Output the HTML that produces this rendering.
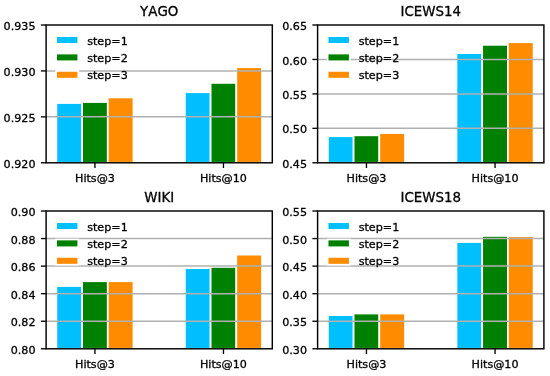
<!DOCTYPE html>
<html><head><meta charset="utf-8"><title>Hits by step</title>
<style>
html,body{margin:0;padding:0;background:#fff;}
body{width:550px;height:376px;overflow:hidden;}
svg{display:block;}
text{font-family:"DejaVu Sans","Liberation Sans",sans-serif;fill:#000;stroke:#000;stroke-width:0.3;}
.tk{font-size:11.15px;}
.tt{font-size:13.4px;font-kerning:none;}
</style></head><body>
<svg width="550" height="376" viewBox="0 0 550 376">
<rect x="0" y="0" width="550" height="376" fill="#fff"/>
<g>
<rect x="56.38" y="103.03" width="25.7" height="59.78" fill="#00bfff" stroke="#fff" stroke-width="1.75"/>
<rect x="82.09" y="102.03" width="25.7" height="60.78" fill="#008000" stroke="#fff" stroke-width="1.75"/>
<rect x="107.79" y="97.42" width="25.7" height="65.38" fill="#ff8c00" stroke="#fff" stroke-width="1.75"/>
<rect x="184.9" y="92.22" width="25.7" height="70.58" fill="#00bfff" stroke="#fff" stroke-width="1.75"/>
<rect x="210.61" y="82.92" width="25.7" height="79.88" fill="#008000" stroke="#fff" stroke-width="1.75"/>
<rect x="236.31" y="67.22" width="25.7" height="95.58" fill="#ff8c00" stroke="#fff" stroke-width="1.75"/>
<line x1="46.1" x2="272.3" y1="116.87" y2="116.87" stroke="#b0b0b0" stroke-width="1.5"/>
<line x1="46.1" x2="272.3" y1="70.93" y2="70.93" stroke="#b0b0b0" stroke-width="1.5"/>
<rect x="46.1" y="25" width="226.2" height="137.8" fill="none" stroke="#000" stroke-width="1.45"/>
<line x1="40.88" x2="46.1" y1="162.8" y2="162.8" stroke="#000" stroke-width="1.35"/>
<text class="tk" transform="translate(35.5 167.9) scale(1 1.0)" text-anchor="end">0.920</text>
<line x1="40.88" x2="46.1" y1="116.87" y2="116.87" stroke="#000" stroke-width="1.35"/>
<text class="tk" transform="translate(35.5 121.97) scale(1 1.0)" text-anchor="end">0.925</text>
<line x1="40.88" x2="46.1" y1="70.93" y2="70.93" stroke="#000" stroke-width="1.35"/>
<text class="tk" transform="translate(35.5 76.03) scale(1 1.0)" text-anchor="end">0.930</text>
<line x1="40.88" x2="46.1" y1="25" y2="25" stroke="#000" stroke-width="1.35"/>
<text class="tk" transform="translate(35.5 30.1) scale(1 1.0)" text-anchor="end">0.935</text>
<line x1="94.94" x2="94.94" y1="162.8" y2="168.03" stroke="#000" stroke-width="1.35"/>
<text class="tk" transform="translate(94.94 182.1) scale(1 1.0)" text-anchor="middle">Hits@3</text>
<line x1="223.46" x2="223.46" y1="162.8" y2="168.03" stroke="#000" stroke-width="1.35"/>
<text class="tk" transform="translate(223.46 182.1) scale(1 1.0)" text-anchor="middle">Hits@10</text>
<text class="tt" transform="translate(159.2 16.15) scale(1 1.0)" text-anchor="middle">YAGO</text>
<rect x="56.1" y="36.1" width="22.2" height="7.8" fill="#00bfff" stroke="#fff" stroke-width="1.75"/>
<text class="tk" transform="translate(87.2 44.6) scale(1 1.0)" text-anchor="start">step=1</text>
<rect x="56.1" y="53.5" width="22.2" height="7.8" fill="#008000" stroke="#fff" stroke-width="1.75"/>
<text class="tk" transform="translate(87.2 62) scale(1 1.0)" text-anchor="start">step=2</text>
<rect x="56.1" y="70.9" width="22.2" height="7.8" fill="#ff8c00" stroke="#fff" stroke-width="1.75"/>
<text class="tk" transform="translate(87.2 79.4) scale(1 1.0)" text-anchor="start">step=3</text>
</g>
<g>
<rect x="327.89" y="136.22" width="25.72" height="26.58" fill="#00bfff" stroke="#fff" stroke-width="1.75"/>
<rect x="353.6" y="135.32" width="25.72" height="27.48" fill="#008000" stroke="#fff" stroke-width="1.75"/>
<rect x="379.32" y="133.03" width="25.72" height="29.78" fill="#ff8c00" stroke="#fff" stroke-width="1.75"/>
<rect x="456.47" y="53.12" width="25.72" height="109.68" fill="#00bfff" stroke="#fff" stroke-width="1.75"/>
<rect x="482.18" y="44.83" width="25.72" height="117.98" fill="#008000" stroke="#fff" stroke-width="1.75"/>
<rect x="507.9" y="42.23" width="25.72" height="120.58" fill="#ff8c00" stroke="#fff" stroke-width="1.75"/>
<line x1="317.6" x2="543.9" y1="128.35" y2="128.35" stroke="#b0b0b0" stroke-width="1.5"/>
<line x1="317.6" x2="543.9" y1="93.9" y2="93.9" stroke="#b0b0b0" stroke-width="1.5"/>
<line x1="317.6" x2="543.9" y1="59.45" y2="59.45" stroke="#b0b0b0" stroke-width="1.5"/>
<rect x="317.6" y="25" width="226.3" height="137.8" fill="none" stroke="#000" stroke-width="1.45"/>
<line x1="312.38" x2="317.6" y1="162.8" y2="162.8" stroke="#000" stroke-width="1.35"/>
<text class="tk" transform="translate(307 167.9) scale(1 1.0)" text-anchor="end">0.45</text>
<line x1="312.38" x2="317.6" y1="128.35" y2="128.35" stroke="#000" stroke-width="1.35"/>
<text class="tk" transform="translate(307 133.45) scale(1 1.0)" text-anchor="end">0.50</text>
<line x1="312.38" x2="317.6" y1="93.9" y2="93.9" stroke="#000" stroke-width="1.35"/>
<text class="tk" transform="translate(307 99) scale(1 1.0)" text-anchor="end">0.55</text>
<line x1="312.38" x2="317.6" y1="59.45" y2="59.45" stroke="#000" stroke-width="1.35"/>
<text class="tk" transform="translate(307 64.55) scale(1 1.0)" text-anchor="end">0.60</text>
<line x1="312.38" x2="317.6" y1="25" y2="25" stroke="#000" stroke-width="1.35"/>
<text class="tk" transform="translate(307 30.1) scale(1 1.0)" text-anchor="end">0.65</text>
<line x1="366.46" x2="366.46" y1="162.8" y2="168.03" stroke="#000" stroke-width="1.35"/>
<text class="tk" transform="translate(366.46 182.1) scale(1 1.0)" text-anchor="middle">Hits@3</text>
<line x1="495.04" x2="495.04" y1="162.8" y2="168.03" stroke="#000" stroke-width="1.35"/>
<text class="tk" transform="translate(495.04 182.1) scale(1 1.0)" text-anchor="middle">Hits@10</text>
<text class="tt" transform="translate(430.75 16.15) scale(1 1.0)" text-anchor="middle">ICEWS14</text>
<rect x="327.6" y="36.1" width="22.2" height="7.8" fill="#00bfff" stroke="#fff" stroke-width="1.75"/>
<text class="tk" transform="translate(358.7 44.6) scale(1 1.0)" text-anchor="start">step=1</text>
<rect x="327.6" y="53.5" width="22.2" height="7.8" fill="#008000" stroke="#fff" stroke-width="1.75"/>
<text class="tk" transform="translate(358.7 62) scale(1 1.0)" text-anchor="start">step=2</text>
<rect x="327.6" y="70.9" width="22.2" height="7.8" fill="#ff8c00" stroke="#fff" stroke-width="1.75"/>
<text class="tk" transform="translate(358.7 79.4) scale(1 1.0)" text-anchor="start">step=3</text>
</g>
<g>
<rect x="56.38" y="286.02" width="25.7" height="62.78" fill="#00bfff" stroke="#fff" stroke-width="1.75"/>
<rect x="82.09" y="281.23" width="25.7" height="67.57" fill="#008000" stroke="#fff" stroke-width="1.75"/>
<rect x="107.79" y="281.23" width="25.7" height="67.57" fill="#ff8c00" stroke="#fff" stroke-width="1.75"/>
<rect x="184.9" y="268.12" width="25.7" height="80.68" fill="#00bfff" stroke="#fff" stroke-width="1.75"/>
<rect x="210.61" y="266.93" width="25.7" height="81.88" fill="#008000" stroke="#fff" stroke-width="1.75"/>
<rect x="236.31" y="254.62" width="25.7" height="94.18" fill="#ff8c00" stroke="#fff" stroke-width="1.75"/>
<line x1="46.1" x2="272.3" y1="321.24" y2="321.24" stroke="#b0b0b0" stroke-width="1.5"/>
<line x1="46.1" x2="272.3" y1="293.68" y2="293.68" stroke="#b0b0b0" stroke-width="1.5"/>
<line x1="46.1" x2="272.3" y1="266.12" y2="266.12" stroke="#b0b0b0" stroke-width="1.5"/>
<line x1="46.1" x2="272.3" y1="238.56" y2="238.56" stroke="#b0b0b0" stroke-width="1.5"/>
<rect x="46.1" y="211" width="226.2" height="137.8" fill="none" stroke="#000" stroke-width="1.45"/>
<line x1="40.88" x2="46.1" y1="348.8" y2="348.8" stroke="#000" stroke-width="1.35"/>
<text class="tk" transform="translate(35.5 353.9) scale(1 1.0)" text-anchor="end">0.80</text>
<line x1="40.88" x2="46.1" y1="321.24" y2="321.24" stroke="#000" stroke-width="1.35"/>
<text class="tk" transform="translate(35.5 326.34) scale(1 1.0)" text-anchor="end">0.82</text>
<line x1="40.88" x2="46.1" y1="293.68" y2="293.68" stroke="#000" stroke-width="1.35"/>
<text class="tk" transform="translate(35.5 298.78) scale(1 1.0)" text-anchor="end">0.84</text>
<line x1="40.88" x2="46.1" y1="266.12" y2="266.12" stroke="#000" stroke-width="1.35"/>
<text class="tk" transform="translate(35.5 271.22) scale(1 1.0)" text-anchor="end">0.86</text>
<line x1="40.88" x2="46.1" y1="238.56" y2="238.56" stroke="#000" stroke-width="1.35"/>
<text class="tk" transform="translate(35.5 243.66) scale(1 1.0)" text-anchor="end">0.88</text>
<line x1="40.88" x2="46.1" y1="211" y2="211" stroke="#000" stroke-width="1.35"/>
<text class="tk" transform="translate(35.5 216.1) scale(1 1.0)" text-anchor="end">0.90</text>
<line x1="94.94" x2="94.94" y1="348.8" y2="354.03" stroke="#000" stroke-width="1.35"/>
<text class="tk" transform="translate(94.94 368.1) scale(1 1.0)" text-anchor="middle">Hits@3</text>
<line x1="223.46" x2="223.46" y1="348.8" y2="354.03" stroke="#000" stroke-width="1.35"/>
<text class="tk" transform="translate(223.46 368.1) scale(1 1.0)" text-anchor="middle">Hits@10</text>
<text class="tt" transform="translate(159.2 202.15) scale(1 1.0)" text-anchor="middle">WIKI</text>
<rect x="56.1" y="222.1" width="22.2" height="7.8" fill="#00bfff" stroke="#fff" stroke-width="1.75"/>
<text class="tk" transform="translate(87.2 230.6) scale(1 1.0)" text-anchor="start">step=1</text>
<rect x="56.1" y="239.5" width="22.2" height="7.8" fill="#008000" stroke="#fff" stroke-width="1.75"/>
<text class="tk" transform="translate(87.2 248) scale(1 1.0)" text-anchor="start">step=2</text>
<rect x="56.1" y="256.9" width="22.2" height="7.8" fill="#ff8c00" stroke="#fff" stroke-width="1.75"/>
<text class="tk" transform="translate(87.2 265.4) scale(1 1.0)" text-anchor="start">step=3</text>
</g>
<g>
<rect x="327.89" y="315.12" width="25.72" height="33.68" fill="#00bfff" stroke="#fff" stroke-width="1.75"/>
<rect x="353.6" y="313.52" width="25.72" height="35.28" fill="#008000" stroke="#fff" stroke-width="1.75"/>
<rect x="379.32" y="313.52" width="25.72" height="35.28" fill="#ff8c00" stroke="#fff" stroke-width="1.75"/>
<rect x="456.47" y="242.03" width="25.72" height="106.78" fill="#00bfff" stroke="#fff" stroke-width="1.75"/>
<rect x="482.18" y="235.93" width="25.72" height="112.88" fill="#008000" stroke="#fff" stroke-width="1.75"/>
<rect x="507.9" y="236.22" width="25.72" height="112.58" fill="#ff8c00" stroke="#fff" stroke-width="1.75"/>
<line x1="317.6" x2="543.9" y1="321.24" y2="321.24" stroke="#b0b0b0" stroke-width="1.5"/>
<line x1="317.6" x2="543.9" y1="293.68" y2="293.68" stroke="#b0b0b0" stroke-width="1.5"/>
<line x1="317.6" x2="543.9" y1="266.12" y2="266.12" stroke="#b0b0b0" stroke-width="1.5"/>
<line x1="317.6" x2="543.9" y1="238.56" y2="238.56" stroke="#b0b0b0" stroke-width="1.5"/>
<rect x="317.6" y="211" width="226.3" height="137.8" fill="none" stroke="#000" stroke-width="1.45"/>
<line x1="312.38" x2="317.6" y1="348.8" y2="348.8" stroke="#000" stroke-width="1.35"/>
<text class="tk" transform="translate(307 353.9) scale(1 1.0)" text-anchor="end">0.30</text>
<line x1="312.38" x2="317.6" y1="321.24" y2="321.24" stroke="#000" stroke-width="1.35"/>
<text class="tk" transform="translate(307 326.34) scale(1 1.0)" text-anchor="end">0.35</text>
<line x1="312.38" x2="317.6" y1="293.68" y2="293.68" stroke="#000" stroke-width="1.35"/>
<text class="tk" transform="translate(307 298.78) scale(1 1.0)" text-anchor="end">0.40</text>
<line x1="312.38" x2="317.6" y1="266.12" y2="266.12" stroke="#000" stroke-width="1.35"/>
<text class="tk" transform="translate(307 271.22) scale(1 1.0)" text-anchor="end">0.45</text>
<line x1="312.38" x2="317.6" y1="238.56" y2="238.56" stroke="#000" stroke-width="1.35"/>
<text class="tk" transform="translate(307 243.66) scale(1 1.0)" text-anchor="end">0.50</text>
<line x1="312.38" x2="317.6" y1="211" y2="211" stroke="#000" stroke-width="1.35"/>
<text class="tk" transform="translate(307 216.1) scale(1 1.0)" text-anchor="end">0.55</text>
<line x1="366.46" x2="366.46" y1="348.8" y2="354.03" stroke="#000" stroke-width="1.35"/>
<text class="tk" transform="translate(366.46 368.1) scale(1 1.0)" text-anchor="middle">Hits@3</text>
<line x1="495.04" x2="495.04" y1="348.8" y2="354.03" stroke="#000" stroke-width="1.35"/>
<text class="tk" transform="translate(495.04 368.1) scale(1 1.0)" text-anchor="middle">Hits@10</text>
<text class="tt" transform="translate(430.75 202.15) scale(1 1.0)" text-anchor="middle">ICEWS18</text>
<rect x="327.6" y="222.1" width="22.2" height="7.8" fill="#00bfff" stroke="#fff" stroke-width="1.75"/>
<text class="tk" transform="translate(358.7 230.6) scale(1 1.0)" text-anchor="start">step=1</text>
<rect x="327.6" y="239.5" width="22.2" height="7.8" fill="#008000" stroke="#fff" stroke-width="1.75"/>
<text class="tk" transform="translate(358.7 248) scale(1 1.0)" text-anchor="start">step=2</text>
<rect x="327.6" y="256.9" width="22.2" height="7.8" fill="#ff8c00" stroke="#fff" stroke-width="1.75"/>
<text class="tk" transform="translate(358.7 265.4) scale(1 1.0)" text-anchor="start">step=3</text>
</g>
</svg>
</body></html>
